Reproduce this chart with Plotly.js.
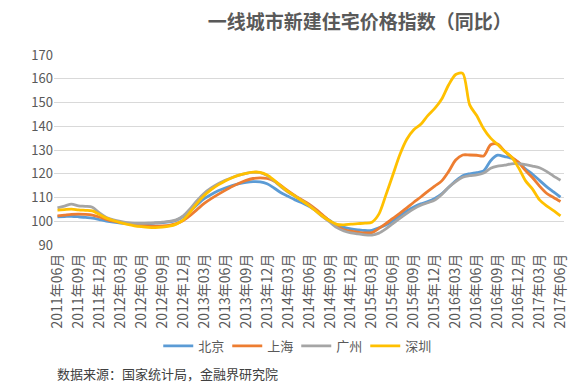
<!DOCTYPE html>
<html>
<head>
<meta charset="utf-8">
<script src="https://cdn.plot.ly/plotly-3.0.1.min.js"></script>
<style>
html,body{margin:0;padding:0;background:#fff;}
#chart{width:585px;height:390px;}
</style>
</head>
<body>
<div id="chart"></div>
<script>
// Month categories 2011-06 .. 2017-06
const months = [];
for (let y = 2011, m = 6; y < 2017 || (y === 2017 && m <= 6); ) {
  months.push(y + '年' + String(m).padStart(2, '0') + '月');
  m++; if (m > 12) { m = 1; y++; }
}
const tickLabels = ['2011年06月','2011年09月','2011年12月','2012年03月','2012年06月','2012年09月','2012年12月',
  '2013年03月','2013年06月','2013年09月','2013年12月','2014年03月','2014年06月','2014年09月','2014年12月',
  '2015年03月','2015年06月','2015年09月','2015年12月','2016年03月','2016年06月','2016年09月','2016年12月',
  '2017年03月','2017年06月'];

const beijing = [101.9,102.0,102.1,101.9,101.6,101.3,100.7,100.1,99.6,99.2,
  99.0,98.9,98.9,99.0,99.2,99.4,99.7,100.4,102.0,104.3,
  107.0,109.5,111.3,112.8,114.0,115.0,115.8,116.4,116.7,116.6,
  115.8,114.0,112.0,110.5,109.0,107.8,106.3,104.5,102.3,100.2,
  98.3,97.4,96.8,96.4,96.1,96.2,97.2,98.4,100.1,102.3,
  104.3,106.0,107.3,108.3,109.6,111.5,114.3,117.0,119.2,120.0,
  120.5,121.2,125.5,127.8,127.2,126.5,124.7,122.0,119.8,117.2,
  114.6,112.4,110.2];
const shanghai = [102.3,102.6,102.9,103.0,102.9,102.6,101.8,100.8,100.0,99.5,
  99.0,98.6,98.3,98.0,97.9,98.0,98.3,99.0,100.3,102.5,
  105.0,107.5,109.5,111.3,113.0,114.6,116.0,117.2,118.0,118.3,
  118.0,117.0,115.0,112.8,110.8,109.0,107.2,105.0,102.5,100.0,
  97.8,96.4,95.8,95.4,95.1,95.2,97.0,99.0,101.2,103.3,
  105.6,108.0,110.2,112.6,114.8,117.0,121.0,125.8,127.9,127.9,
  127.8,127.5,132.2,132.5,129.5,127.0,124.8,121.3,118.3,114.8,
  111.8,110.0,108.3];
const guangzhou = [105.6,106.4,107.2,106.5,106.3,105.9,103.5,101.6,100.6,99.9,
  99.4,99.1,99.1,99.2,99.4,99.6,99.9,100.6,102.3,105.3,
  108.8,111.8,114.0,115.8,117.2,118.4,119.4,120.2,120.6,120.5,
  119.2,117.0,114.5,112.3,110.5,108.7,106.7,104.3,101.8,99.6,
  97.3,95.9,95.1,94.7,94.3,94.2,95.0,96.8,99.0,101.2,
  103.3,105.2,106.7,107.8,108.9,111.3,114.3,116.7,118.5,119.2,
  119.5,120.3,122.3,123.2,123.6,124.2,124.3,123.8,123.2,122.5,
  121.0,119.0,117.3];
const shenzhen = [104.7,104.9,105.1,104.8,104.6,104.4,102.8,101.3,100.3,99.4,
  98.7,98.1,97.7,97.4,97.3,97.5,97.9,98.8,100.6,103.9,
  107.6,110.8,113.3,115.3,117.0,118.3,119.4,120.2,120.7,120.6,
  119.5,117.3,114.8,112.5,110.6,108.6,106.6,104.3,102.0,100.1,
  98.7,98.5,98.8,99.0,99.2,99.6,103.0,111.0,119.5,128.0,
  134.5,138.5,140.8,144.5,147.5,151.5,157.5,161.8,162.3,149.0,
  144.5,139.0,135.0,132.3,129.5,127.0,122.5,117.0,113.5,109.0,
  106.5,104.5,102.3];

const seriesNames = ['北京','上海','广州','深圳'];
const seriesData = [beijing, shanghai, guangzhou, shenzhen];
const seriesColors = ['#5B9BD5','#ED7D31','#A5A5A5','#FFC000'];

const FONT = '"Noto Sans CJK SC", "Noto Sans", sans-serif';

const traces = seriesData.map((d, k) => ({
  type: 'scatter',
  mode: 'lines',
  name: seriesNames[k],
  x: months,
  y: d,
  line: {color: seriesColors[k], width: 2.8, shape: 'spline', smoothing: 0.8},
  hoverinfo: 'skip'
}));

const layout = {
  width: 585,
  height: 390,
  margin: {l: 54, r: 21, t: 55, b: 145, pad: 0},
  paper_bgcolor: '#ffffff',
  plot_bgcolor: '#ffffff',
  font: {family: FONT, color: '#595959'},
  title: {
    text: '一线城市新建住宅价格指数（同比）',
    font: {family: FONT, size: 19, color: '#595959', weight: 'bold'},
    xref: 'container', x: 0.615, xanchor: 'center',
    yref: 'container', y: 0.943, yanchor: 'middle'
  },
  xaxis: {
    type: 'category',
    range: [-0.5, months.length - 0.5],
    tickmode: 'array',
    tickvals: tickLabels,
    ticktext: tickLabels,
    tickangle: -90,
    tickfont: {family: FONT, size: 14, color: '#595959'},
    ticklabelstandoff: 5,
    showgrid: false,
    showline: false,
    zeroline: false,
    ticks: ''
  },
  yaxis: {
    range: [90, 170],
    dtick: 10,
    tick0: 90,
    tickfont: {family: FONT, size: 13, color: '#595959'},
    gridcolor: '#d9d9d9',
    gridwidth: 1,
    showline: false,
    zeroline: false,
    ticks: ''
  },
  showlegend: true,
  legend: {
    orientation: 'h',
    x: 0.475, xanchor: 'center',
    y: -0.5316, yanchor: 'middle',
    font: {family: FONT, size: 13, color: '#595959'},
    entrywidth: 24,
    entrywidthmode: 'pixels',
    traceorder: 'normal'
  },
  annotations: [{
    text: '数据来源：国家统计局，金融界研究院',
    xref: 'paper', yref: 'paper',
    x: 0.001, xanchor: 'left',
    y: -0.674, yanchor: 'middle',
    showarrow: false,
    font: {family: FONT, size: 13, color: '#404040'}
  }]
};

Plotly.newPlot('chart', traces, layout, {displayModeBar: false, staticPlot: true});
</script>
</body>
</html>
